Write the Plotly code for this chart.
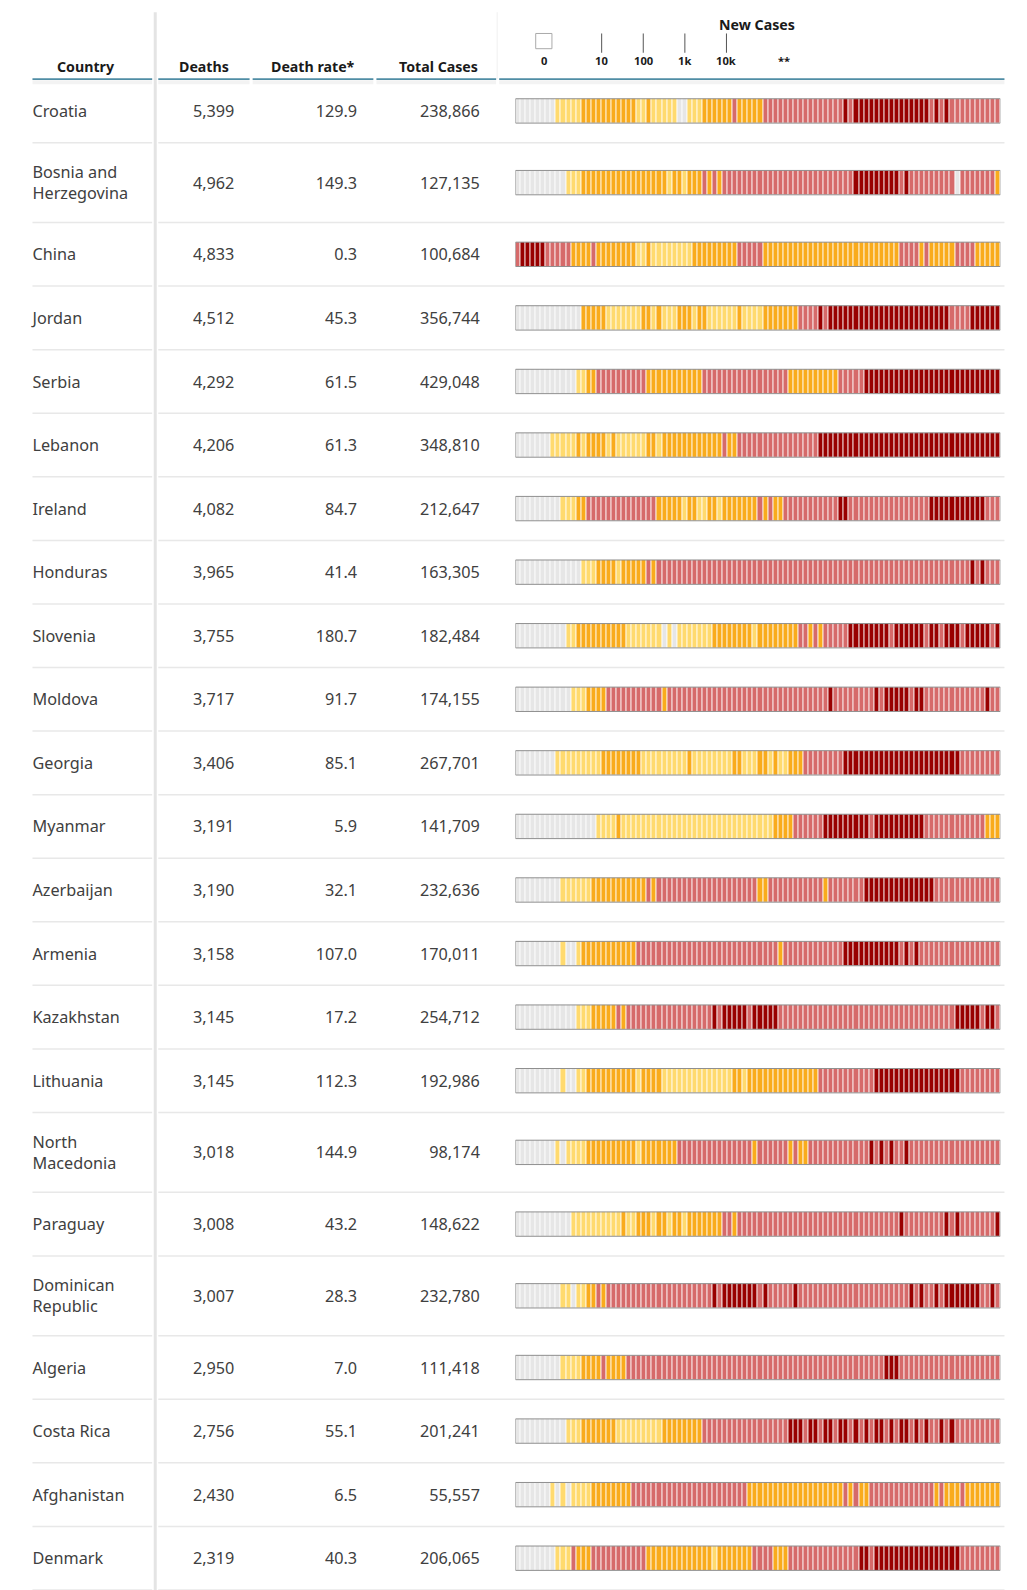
import plotly.graph_objects as go

countries = ["Croatia", "Bosnia and<br>Herzegovina", "China", "Jordan", "Serbia",
             "Lebanon", "Ireland", "Honduras", "Slovenia", "Moldova", "Georgia",
             "Myanmar", "Azerbaijan", "Armenia", "Kazakhstan", "Lithuania",
             "North<br>Macedonia", "Paraguay", "Dominican<br>Republic", "Algeria",
             "Costa Rica", "Afghanistan", "Denmark"]
deaths = [5399, 4962, 4833, 4512, 4292, 4206, 4082, 3965, 3755, 3717, 3406, 3191,
          3190, 3158, 3145, 3145, 3018, 3008, 3007, 2950, 2756, 2430, 2319]
death_rate = [129.9, 149.3, 0.3, 45.3, 61.5, 61.3, 84.7, 41.4, 180.7, 91.7, 85.1, 5.9,
              32.1, 107.0, 17.2, 112.3, 144.9, 43.2, 28.3, 7.0, 55.1, 6.5, 40.3]
total_cases = [238866, 127135, 100684, 356744, 429048, 348810, 212647, 163305, 182484,
               174155, 267701, 141709, 232636, 170011, 254712, 192986, 98174, 148622,
               232780, 111418, 201241, 55557, 206065]

# new cases bucket per period, run-length coded "bucket x count"
# 0 = none, 1 = under 10, 2 = 10-100, 3 = 100-1k, 4 = 1k-10k
new_case_runs = [
    "0x8 1x5 2x11 1x2 2x1 1x5 0x2 1x3 2x6 3x1 2x5 3x16 4x1 3x1 4x15 3x1 4x1 3x1 4x1 3x10",
    "0x10 1x3 2x17 1x1 2x2 1x1 2x3 3x1 2x1 3x1 2x1 3x26 4x9 3x1 4x1 3x9 0x1 3x7 2x1",
    "3x1 4x5 3x5 2x4 3x1 2x8 1x2 2x1 1x8 2x9 3x5 2x27 3x4 2x1 3x1 2x5 3x4 2x5",
    "0x13 2x5 1x7 2x2 1x1 2x1 1x3 2x3 1x1 2x2 1x6 2x1 1x4 2x7 3x4 4x1 3x1 4x24 3x4 4x6",
    "0x12 1x2 2x2 3x10 2x11 3x17 2x10 3x5 4x27",
    "0x7 1x5 2x1 1x1 2x4 1x1 2x1 1x6 2x2 1x1 2x12 3x1 2x2 3x16 4x36",
    "0x9 1x3 2x2 3x14 2x5 1x1 2x2 1x2 2x2 1x1 2x7 3x1 2x1 3x1 2x2 3x11 4x2 3x16 4x11 3x3",
    "0x13 1x3 2x4 1x1 2x5 3x1 2x1 3x62 4x1 3x1 4x1 3x3",
    "0x10 1x2 2x10 1x7 0x1 1x1 0x1 1x7 2x8 1x1 2x8 3x2 2x1 3x1 2x1 3x5 4x8 3x1 4x6 3x1 4x2 3x1 4x3 3x1 4x5 3x1 4x1",
    "0x11 1x3 2x4 3x11 2x1 3x32 4x1 3x8 4x1 3x1 4x5 3x1 4x2 3x12 4x1 3x2",
    "0x8 1x9 2x8 1x9 2x1 1x8 2x2 1x3 2x2 1x1 2x1 1x2 2x3 3x8 4x23 3x8",
    "0x16 1x4 2x1 1x30 2x4 3x6 4x9 3x1 4x10 3x12 2x3",
    "0x9 1x6 2x11 3x1 2x1 3x20 2x2 3x11 2x1 3x7 4x14 3x13",
    "0x9 1x1 0x2 1x1 2x11 3x28 2x1 3x12 4x11 3x1 4x1 3x1 4x1 3x16",
    "0x12 1x3 2x5 3x1 2x1 3x17 4x1 3x1 4x5 3x1 4x5 3x35 4x5 3x1 4x2 3x1",
    "0x9 1x1 0x2 1x2 2x10 1x1 2x4 1x14 2x2 1x1 2x14 3x11 4x17 3x8",
    "0x8 1x1 0x1 1x4 2x10 1x1 2x7 3x15 2x1 3x6 2x1 3x1 2x2 3x12 4x1 3x1 4x1 3x1 4x1 3x2 4x1 3x18",
    "0x11 1x10 2x1 1x2 2x3 1x1 2x2 1x1 2x2 1x1 2x7 3x2 2x1 3x32 4x1 3x8 4x1 3x1 4x1 3x7 4x1",
    "0x9 1x2 0x1 1x2 2x2 3x1 2x1 3x21 4x1 3x1 4x7 3x1 4x1 3x5 4x1 3x22 4x1 3x1 4x1 3x2 4x1 3x1 4x7 3x2 4x1 3x1",
    "0x9 1x4 2x4 3x1 2x4 3x51 4x3 3x20",
    "0x10 1x3 2x7 1x9 2x8 3x17 4x3 3x1 4x2 3x1 4x2 3x1 4x2 3x1 4x1 3x1 4x1 3x1 4x2 3x1 4x1 3x1 4x2 3x1 4x1 3x1 4x1 3x2 4x1 3x1 4x1 3x9",
    "0x7 1x1 0x1 1x1 0x1 1x4 2x8 3x23 2x19 3x1 2x1 3x1 2x2 3x13 2x1 3x1 2x3 3x1 2x7",
    "0x8 1x3 3x1 2x3 3x11 2x13 1x1 2x7 3x4 2x3 3x14 4x2 3x1 4x17 3x8",
]

legend_labels = ["0", "10", "100", "1k", "10k", "**"]
bucket_colors = ["#e6e6e6", "#ffda6e", "#f9ab1c", "#d66a6a", "#990000"]


def expand(runs):
    cells = []
    for tok in runs.split():
        code, count = tok.split("x")
        cells += [int(code)] * int(count)
    return cells


FONT = "Noto Sans"
S = 1027 / 1042                    # page ends up shrunk by this much in the shot
W, H = 1011, 1605
R0 = 8 * S                         # 8px body margin, in screen pixels
fs = lambda v: v / S               # font / width sizes in css px

# row geometry (screen pixels)
header_bottom = 78
row_h = [78.7 if "<br>" in c else 62.65 for c in countries]
centers, bottoms = [], []
y = header_bottom
for h in row_h:
    centers.append(y + h / 2)
    y += h
    bottoms.append(y)
text_y = [c + 2 for c in centers]  # nudge text down a touch

n_cells = max(len(expand(r)) for r in new_case_runs)
strip_left, strip_right, strip_h = 508, 986, 24

fig = go.Figure()

scale = []
for i, c in enumerate(bucket_colors):
    scale += [[i / len(bucket_colors), c], [(i + 1) / len(bucket_colors), c]]

for yc, runs in zip(centers, new_case_runs):
    fig.add_trace(go.Heatmap(
        z=[expand(runs)], x0=0, dx=1, y0=yc, dy=strip_h,
        zmin=-0.5, zmax=len(bucket_colors) - 0.5, colorscale=scale,
        showscale=False, xgap=1, hoverinfo="skip",
        xaxis="x2", yaxis="y"))

text_font = dict(family=FONT, size=fs(16), color="#404040")
fig.add_trace(go.Scatter(x=[32] * len(countries), y=text_y, text=countries,
                         mode="text", textposition="middle right",
                         textfont=text_font, hoverinfo="skip"))
for col_x, vals in [(231, [f"{v:,}" for v in deaths]),
                    (352, [f"{v:.1f}" for v in death_rate]),
                    (473, [f"{v:,}" for v in total_cases])]:
    fig.add_trace(go.Scatter(x=[col_x] * len(vals), y=text_y, text=vals,
                             mode="text", textposition="middle left",
                             textfont=text_font, hoverinfo="skip"))

shapes = []
line_grey = "#e8e8e8"
# vertical dividers
shapes.append(dict(type="line", x0=153, x1=153, y0=12, y1=1600,
                   line=dict(color="#e4e4e4", width=3), layer="below"))
shapes.append(dict(type="line", x0=490, x1=490, y0=12, y1=header_bottom,
                   line=dict(color="#f0f0f0", width=1), layer="below"))
# header underline
for x0, x1 in [(32, 150), (156, 246), (249, 368), (371, 489), (492, 990)]:
    shapes.append(dict(type="line", x0=x0, x1=x1, y0=81, y1=81,
                       line=dict(color="#f3f3f3", width=4), layer="below"))
    shapes.append(dict(type="line", x0=x0, x1=x1, y0=header_bottom, y1=header_bottom,
                       line=dict(color="#4f8da5", width=fs(1.6)), layer="below"))
# row separators
for b in bottoms:
    for x0, x1 in [(32, 150), (156, 990)]:
        shapes.append(dict(type="line", x0=x0, x1=x1, y0=b, y1=b,
                           line=dict(color=line_grey, width=1.5), layer="below"))
# strip outlines
for yc in centers:
    shapes.append(dict(type="rect", xref="x2", yref="y", x0=-0.5, x1=n_cells - 0.5,
                       y0=yc - strip_h / 2, y1=yc + strip_h / 2,
                       line=dict(color="#8f8f8f", width=1)))

# legend keys
shapes.append(dict(type="rect", x0=528, x1=544, y0=33, y1=48,
                   line=dict(color="#aaaaaa", width=1), fillcolor="white"))
legend_x = [536, 593, 634, 675, 716, 773]
for lx in legend_x[1:5]:
    shapes.append(dict(type="line", x0=lx, x1=lx, y0=33, y1=52,
                       line=dict(color="#555555", width=1)))

annotations = []
hdr = dict(family=FONT, size=fs(14), color="#1a1a1a")
for txt, hx, anchor in [("Country", 85, "center"), ("Deaths", 228, "right"),
                        ("Death rate*", 352, "right"), ("Total Cases", 473, "right")]:
    annotations.append(dict(x=hx, y=66, text=f"<b>{txt}</b>", xanchor=anchor,
                            yanchor="middle", showarrow=False, font=hdr))
annotations.append(dict(x=746, y=24, text="<b>New Cases</b>", xanchor="center",
                        yanchor="middle", showarrow=False, font=hdr))
for lx, lab in zip(legend_x, legend_labels):
    annotations.append(dict(x=lx, y=60, text=f"<b>{lab}</b>", xanchor="center",
                            yanchor="middle", showarrow=False,
                            font=dict(family=FONT, size=fs(11), color="#1a1a1a")))

fig.update_layout(
    width=W, height=H, autosize=False,
    margin=dict(l=0, r=0, t=0, b=0),
    paper_bgcolor="white", plot_bgcolor="rgba(0,0,0,0)",
    showlegend=False,
    xaxis=dict(range=[R0, R0 + W * S], visible=False, fixedrange=True),
    xaxis2=dict(domain=[(strip_left - R0) / (W * S), (strip_right - R0) / (W * S)],
                range=[-0.5, n_cells - 0.5], visible=False, anchor="y",
                fixedrange=True),
    yaxis=dict(range=[R0 + H * S, R0], visible=False, fixedrange=True),
    shapes=shapes, annotations=annotations,
)

fig.write_html("out.html")
